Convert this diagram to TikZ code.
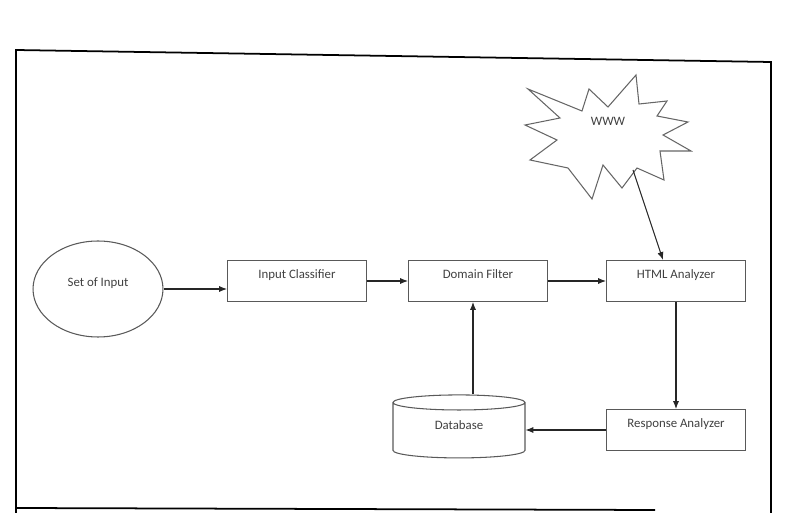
\documentclass[tikz,border=0pt]{standalone}
\usepackage{fontspec}
\setmainfont{Carlito}
\usetikzlibrary{arrows.meta,shapes.geometric}

\begin{document}
\begin{tikzpicture}[x=0.02cm,y=-0.02cm,
  box/.style={draw=black!65, line width=0.6pt, rectangle, minimum width=2.78cm, minimum height=0.82cm, font=\fontsize{7.3}{8}\selectfont, text=black!75, text height=4.5pt, text depth=7.3pt},
  arr/.style={draw=black!85, line width=0.6pt, -{Latex[length=4.5pt,width=3.5pt]}}]
\useasboundingbox (0,0) rectangle (792,513);
% frame
\draw[line width=1pt] (16,513) -- (16,50) -- (771,62) -- (771,513);
\draw[line width=1pt] (16,508) -- (655,510);
%% blocks
\node[box, ellipse, minimum width=2.6cm, minimum height=1.92cm] (input) at (98,289) {Set of Input};
\node[box] (classifier) at (297,281) {Input Classifier};
\node[box] (domain) at (478,281) {Domain Filter};
\node[box] (html) at (676,281) {HTML Analyzer};
\node[box] (response) at (676,430) {Response Analyzer};
\node[box, cylinder, shape border rotate=90, aspect=0.25, minimum width=2.64cm, minimum height=1.26cm] (database) at (459,432) {Database};
% www
\draw[draw=black!60, line width=0.6pt] (528,89) -- (582,111) -- (589,89) -- (608,107) -- (636,75) -- (639,104) -- (667,101) -- (657,116) -- (688,122) -- (663,135) -- (691,151) -- (660,151) -- (664,180) -- (637,168) -- (622,188) -- (603,165) -- (592,199) -- (568,168) -- (530,160) -- (557,140) -- (525,125) -- (560,118) -- cycle;
\node[font=\fontsize{7.3}{8}\selectfont, text=black!75] (www) at (608,121) {WWW};
\coordinate (wwwfoot) at (633,170);
%% arrows
\draw[arr] (input.east) -- (classifier.west |- input.east);
\draw[arr] (classifier) -- (domain);
\draw[arr] (domain) -- (html);
\draw[arr] (wwwfoot) -- ([xshift=-0.26cm]html.north);
\draw[arr] (html) -- (response);
\draw[arr] (response.west) -- (database.east |- response.west);
\draw[arr] ([xshift=0.28cm]database.north) -- ([xshift=0.28cm]database.north |- domain.south);
\end{tikzpicture}
\end{document}
